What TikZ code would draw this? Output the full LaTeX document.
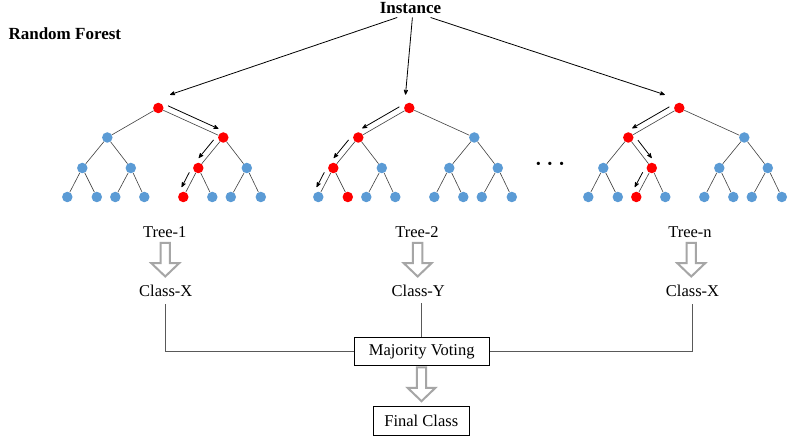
\documentclass[tikz,border=0pt]{standalone}
\usepackage{fontspec}
\setmainfont{Liberation Serif}
\usepackage{tikz}
\usetikzlibrary{arrows,calc}

\definecolor{leafblue}{HTML}{5B9BD5}
\definecolor{hotred}{HTML}{FF0000}
\definecolor{twig}{HTML}{404040}
\definecolor{fatgray}{HTML}{A6A6A6}

\tikzset{
  dot/.style={circle,fill=leafblue,inner sep=0pt,minimum size=10.5pt},
  hot/.style={fill=hotred},
  % nodes on the path taken in each tree
  A-r/.style=hot, A-1/.style=hot, A-10/.style=hot, A-100/.style=hot,
  B-r/.style=hot, B-0/.style=hot, B-00/.style=hot, B-001/.style=hot,
  C-r/.style=hot, C-0/.style=hot, C-01/.style=hot, C-010/.style=hot,
  twigline/.style={draw=twig,line width=0.6pt},
  walk/.style={->,>=stealth',line width=0.8pt,shorten <=8pt,shorten >=8pt},
  fork/.style={->,>=stealth',line width=0.8pt},
  fat/.style={draw=fatgray,line width=2pt},
  box/.style={draw,line width=0.8pt,inner sep=0pt},
  link/.style={draw=black!65,line width=0.8pt}
}

% one tree: #1 name, #2 x of the root
\newcommand{\tree}[2]{%
  \foreach \n/\dx/\lv in {r/0/108, 0/-51/137.5, 1/65/137.5,
      00/-76/168, 01/-27.5/168, 10/40/168, 11/88.5/168,
      000/-91/197, 001/-61.5/197, 010/-43/197, 011/-14/197,
      100/25/197, 101/54/197, 110/72.5/197, 111/102.5/197}
    \node[dot,#1-\n/.try] (#1-\n) at ({#2+\dx},\lv) {};
  \foreach \a/\b in {r/0,r/1,0/00,0/01,1/10,1/11,
      00/000,00/001,01/010,01/011,10/100,10/101,11/110,11/111}
    \draw[twigline] (#1-\a) -- (#1-\b);
}
% arrow beside an edge, #3 = 90 (going right) or -90 (going left)
\newcommand{\walk}[3]{\draw[walk] ($(#1)!6pt!#3:(#2)$) -- ($(#2)!-6pt!#3:(#1)$);}
% hollow grey arrow half way between two nodes
\newcommand{\fat}[2]{\draw[fat] ($(#1)!0.5!(#2)$) ++(-4.7,-18.7) -- ++(0,20.3) -- ++(-9.3,0)
  -- ++(14,13.4) -- ++(14,-13.4) -- ++(-9.3,0) -- ++(0,-20.3) -- cycle;}

\begin{document}
\begin{tikzpicture}[x=1pt,y=-1pt,font=\fontsize{16.5}{19}\selectfont]
  \useasboundingbox[fill=white] (0,0) rectangle (798,438);

  \node[anchor=base west,font=\bfseries\fontsize{17}{20}\selectfont] (title) at (5,39.3) {Random Forest};
  \node[anchor=base,font=\bfseries\fontsize{17}{20}\selectfont] (inst) at (410.5,13.8) {Instance};

  \tree{A}{158.3}
  \tree{B}{409.3}
  \tree{C}{679.3}

  \node[anchor=base,font=\bfseries\fontsize{20}{20}\selectfont] (more) at (550,171) {· · ·};

  \coordinate (A-in) at ([shift={(11.7,-13.3)}]A-r);
  \coordinate (B-in) at ([shift={(-3.8,-13.3)}]B-r);
  \coordinate (C-in) at ([shift={(-14.5,-13.3)}]C-r);
  \draw[fork] ([xshift=-13.3pt]inst.south) -- (A-in);
  \draw[fork] ([xshift=1.9pt]inst.south) -- (B-in);
  \draw[fork] ([xshift=20.1pt]inst.south) -- (C-in);

  \walk{A-r}{A-1}{90}
  \walk{A-1}{A-10}{-90}
  \walk{A-10}{A-100}{-90}
  \walk{B-r}{B-0}{-90}
  \walk{B-0}{B-00}{-90}
  \walk{B-00}{B-000}{-90}
  \walk{C-r}{C-0}{-90}
  \walk{C-0}{C-01}{90}
  \walk{C-01}{C-010}{-90}

  \node[anchor=base] (A-name) at (164.7,237.3) {Tree-1};
  \node[anchor=base] (B-name) at (417,237.3) {Tree-2};
  \node[anchor=base] (C-name) at (690,237.3) {Tree-n};

  \node[anchor=base] (cA) at (165.8,296.7) {Class-X};
  \node[anchor=base] (cB) at (418.3,296.7) {Class-Y};
  \node[anchor=base] (cC) at (692.5,296.7) {Class-X};

  \node[box,minimum width=135pt,minimum height=28.4pt] (vote) at (421.7,351.5) {Majority Voting};
  \node[box,minimum width=96pt,minimum height=28.3pt] (final) at (421.3,420.8) {Final Class};

  \fat{A-name}{cA}
  \fat{B-name}{cB}
  \fat{C-name}{cC}
  \fat{vote}{final}

  \draw[link,shorten <=4pt] (cA.south) |- (vote);
  \draw[link,shorten <=4pt] (cC.south) |- (vote);
  \draw[link,shorten >=3pt] (vote.north) -- (vote.north |- cB.south);
\end{tikzpicture}
\end{document}
